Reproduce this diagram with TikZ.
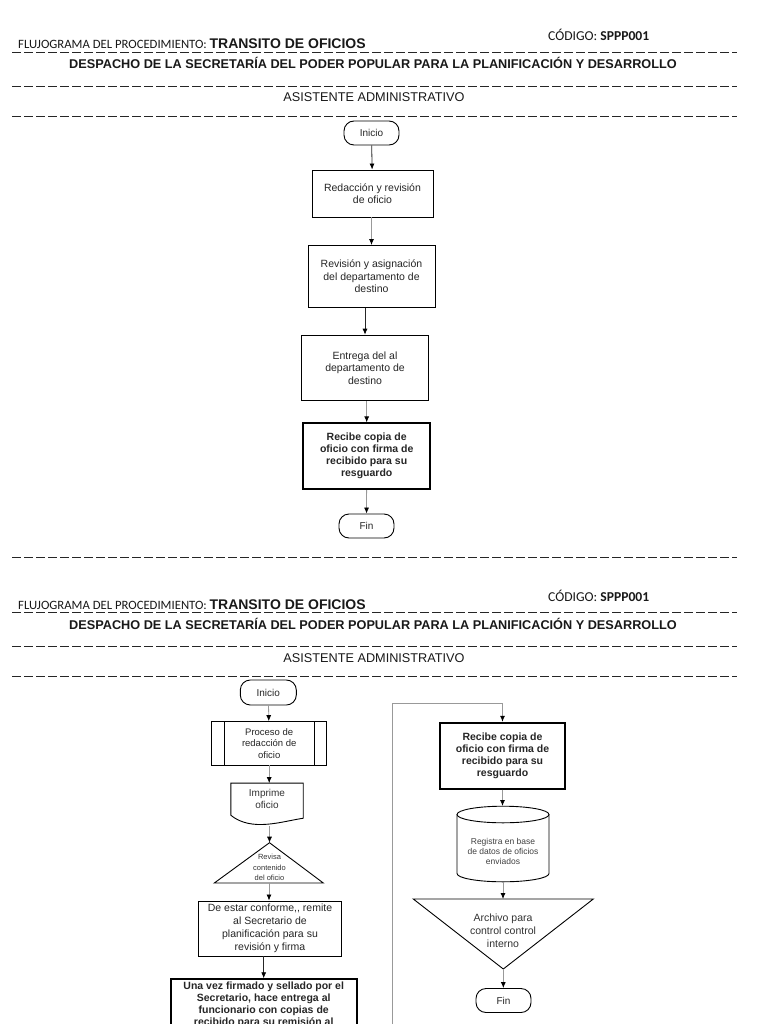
\documentclass[tikz,border=0pt]{standalone}
\usepackage{fontspec}
\setmainfont{Liberation Sans}
\newfontfamily\calibri{Carlito}
\usetikzlibrary{arrows.meta,calc,positioning}
\tikzset{%
	process/.style  = {draw, rectangle, line width=0.9pt, align=center, inner sep=2pt, text=black!85, font=\fontsize{10.5}{12.4}\selectfont},
	boldbox/.style  = {process, line width=1.8pt, font=\fontsize{10.5}{12}\selectfont\bfseries},
	startstop/.style= {draw, rectangle, rounded corners=10pt, line width=0.9pt, minimum width=55pt, minimum height=24pt, text=black!85, font=\fontsize{10}{12}\selectfont},
	shapetxt/.style = {align=center, inner sep=0pt, text=black!80},
	arrow/.style    = {draw=black!40, line width=0.8pt, -{Latex[color=black,length=6pt,width=5pt]}},
	arrowdk/.style  = {arrow, draw=black!85},
	sepline/.style  = {draw=black!85, line width=0.9pt, dash pattern=on 9pt off 3pt},
	headtxt/.style  = {inner sep=0pt, text=black!90},
}
\begin{document}
\begin{tikzpicture}[x=1pt,y=-1pt]
	\fill[white] (0,0) rectangle (768,1024);
	\useasboundingbox (0,0) rectangle (768,1024);
	\clip (0,0) rectangle (768,1024);

	% upper sheet
	\node[headtxt, anchor=base west] (procA) at (18,49) {{\calibri\fontsize{12.7}{14}\selectfont FLUJOGRAMA DEL PROCEDIMIENTO:} {\fontsize{14}{16}\selectfont\bfseries TRANSITO DE OFICIOS}};
	\node[headtxt, anchor=base west] (codA) at (548,41) {\calibri\fontsize{13.6}{15}\selectfont CÓDIGO: \textbf{SPPP001}};
	\node[headtxt, anchor=base] (depA) at (373,69) {\fontsize{12.7}{15}\selectfont\bfseries DESPACHO DE LA SECRETARÍA DEL PODER POPULAR PARA LA PLANIFICACIÓN Y DESARROLLO};
	\node[headtxt, anchor=base] (areaA) at (374,102) {\fontsize{12.7}{15}\selectfont ASISTENTE ADMINISTRATIVO};
	\draw[sepline] (12,52) -- (737,52);
	\draw[sepline] (12,86) -- (737,86);
	\draw[sepline] (12,116) -- (737,116);
	\draw[sepline] (12,557) -- (737,557);

	\node[startstop] (iniA) at (371.5,133) {Inicio};
	\node[process, minimum width=121pt, minimum height=47pt] (redA) at (372.5,193.5) {Redacción y revisión\\de oficio};
	\node[process, minimum width=127pt, minimum height=62pt] (asgA) at (371.5,276.5) {Revisión y asignación\\del departamento de\\destino};
	\node[process, minimum width=126.6pt, minimum height=65.7pt] (entA) at (365,368) {Entrega del al\\departamento de\\destino};
	\node[boldbox, minimum width=126.7pt, minimum height=66pt] (recA) at (366.7,456.3) {Recibe copia de\\oficio con firma de\\recibido para su\\resguardo};
	\node[startstop] (finA) at (366.5,526) {Fin};

	\draw[arrowdk] (iniA) -- (redA);
	\draw[arrow] (redA.south -| asgA.north) -- (asgA.north);
	\draw[arrowdk] (asgA.south -| entA.north) -- (entA.north);
	\draw[arrow] (entA.south -| recA.north) -- (recA.north);
	\draw[arrow] (recA) -- (finA);

	% lower sheet
	\node[headtxt, anchor=base west] (procB) at (18,609) {{\calibri\fontsize{12.7}{14}\selectfont FLUJOGRAMA DEL PROCEDIMIENTO:} {\fontsize{14}{16}\selectfont\bfseries TRANSITO DE OFICIOS}};
	\node[headtxt, anchor=base west] (codB) at (548,601) {\calibri\fontsize{13.6}{15}\selectfont CÓDIGO: \textbf{SPPP001}};
	\node[headtxt, anchor=base] (depB) at (373,629) {\fontsize{12.7}{15}\selectfont\bfseries DESPACHO DE LA SECRETARÍA DEL PODER POPULAR PARA LA PLANIFICACIÓN Y DESARROLLO};
	\node[headtxt, anchor=base] (areaB) at (374,662) {\fontsize{12.7}{15}\selectfont ASISTENTE ADMINISTRATIVO};
	\draw[sepline] (12,612) -- (737,612);
	\draw[sepline] (12,646) -- (737,646);
	\draw[sepline] (12,676) -- (737,676);

	\node[startstop, minimum width=56pt, minimum height=25pt] (iniB) at (268.3,692.5) {Inicio};
	\node[process, minimum width=115pt, minimum height=43.3pt, font=\fontsize{9.5}{11.3}\selectfont] (proB) at (269.2,743.3) {Proceso de\\redacción de\\oficio};
	\draw[line width=0.9pt] ([xshift=13.3pt]proB.north west) -- ([xshift=13.3pt]proB.south west);
	\draw[line width=0.9pt] ([xshift=-12.4pt]proB.north east) -- ([xshift=-12.4pt]proB.south east);
	\node[shapetxt, minimum width=72pt, minimum height=31.7pt, font=\fontsize{10}{11.7}\selectfont] (docB) at (267,799.2) {Imprime\\oficio};
	\draw[line width=0.9pt] (docB.south west) -- (docB.north west) -- (docB.north east) -- ([yshift=-3pt]docB.south east)
		.. controls ([xshift=-21pt,yshift=-6pt]docB.south east) and ([xshift=21pt,yshift=-17pt]docB.south west) .. (docB.south west);
	\coordinate (revBn) at (269.5,842.7);
	\coordinate (revBs) at (269,883);
	\draw[line width=0.9pt] (revBn) -- (214.3,883) -- (323.3,883) -- cycle;
	\node[shapetxt, font=\fontsize{7.5}{10.7}\selectfont] (revB) at (269.5,867.5) {Revisa\\contenido\\del oficio};
	\node[process, minimum width=143.4pt, minimum height=55pt, font=\fontsize{10.5}{13}\selectfont] (confB) at (270,928.5) {De estar conforme,{},{} remite\\al Secretario de\\planificación para su\\revisión y firma};
	\node[boldbox, anchor=north, minimum width=186pt, inner sep=3pt] (firB) at (263.7,978.3) {Una vez firmado y sellado por el\\Secretario, hace entrega al\\funcionario con copias de\\recibido para su remisión al};

	\draw[arrow] (iniB) -- (proB);
	\draw[arrow] (proB.south) -- (proB.south |- docB.north);
	\draw[arrow] ([yshift=-11pt]docB.south -| revBn) -- (revBn);
	\draw[arrow] (revBs) -- (revBs |- confB.north);
	\draw[arrowdk] (confB.south -| firB.north) -- (firB.north);

	\node[boldbox, minimum width=125pt, minimum height=66pt] (recB) at (502.5,755.7) {Recibe copia de\\oficio con firma de\\recibido para su\\resguardo};
	\coordinate (datBn) at (503,806);
	\coordinate (datBs) at (503,882);
	\draw[line width=0.9pt] (503,814.5) ellipse [x radius=46, y radius=8.3];
	\draw[line width=0.9pt] (457,814.5) -- (457,873.5) arc[start angle=180, end angle=0, x radius=46, y radius=8.3] -- (549,814.5);
	\node[shapetxt, font=\fontsize{8.5}{9.8}\selectfont, text=black!75] (datB) at (503,851.6) {Registra en base\\de datos de oficios\\enviados};
	\coordinate (arcBn) at (503,899);
	\coordinate (arcBs) at (503.3,969);
	\draw[line width=0.9pt] (413.3,899) -- (593.3,899) -- (arcBs) -- cycle;
	\node[shapetxt, font=\fontsize{10.5}{12.8}\selectfont] (arcB) at (503,930.5) {Archivo para\\control control\\interno};
	\node[startstop] (finB) at (503.5,1000.5) {Fin};

	\draw[arrow] (recB.south) -- (recB.south |- datBn);
	\draw[arrow] (datBs) -- (arcBn);
	\draw[arrow] (arcBs) -- (arcBs |- finB.north);
	\coordinate (lpB) at (392,1030);
	\draw[arrow] (lpB) |- ([yshift=18pt]recB.north) -- (recB.north);
\end{tikzpicture}
\end{document}
